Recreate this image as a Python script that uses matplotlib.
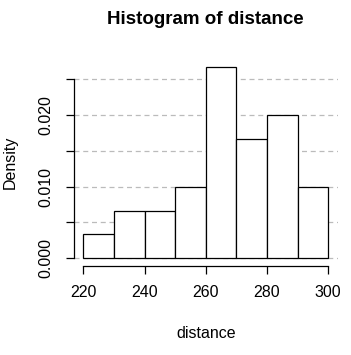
import matplotlib
matplotlib.use("Agg")
import matplotlib.pyplot as plt
import numpy as np

bin_edges = [220, 230, 240, 250, 260, 270, 280, 290, 300]
densities = [0.003333, 0.006667, 0.006667, 0.010, 0.026667, 0.016667, 0.020, 0.010]
x_ticks = [220, 240, 260, 280, 300]
y_ticks = [0.000, 0.005, 0.010, 0.015, 0.020, 0.025]
y_labels = ["0.000", "", "0.010", "", "0.020", ""]
grid_levels = [0.000, 0.005, 0.010, 0.015, 0.020, 0.025]

plt.rcParams['font.family'] = ['Liberation Sans', 'DejaVu Sans']

W, H = 351, 355
fig = plt.figure(figsize=(W / 100, H / 100), dpi=100)
left, right, top, bottom = 73.5, 338, 59.5, 266
ax = fig.add_axes([left / W, (H - bottom) / H, (right - left) / W, (bottom - top) / H])

for g in grid_levels:
    ax.axhline(g, color='#bbbbbb', linestyle=(0, (4, 3)), linewidth=0.9, zorder=0)

widths = np.diff(bin_edges)
ax.bar(bin_edges[:-1], densities, width=widths, align='edge', facecolor='white',
       edgecolor='black', linewidth=0.9, zorder=2)

ax.set_xlim(216.8, 303.2)
ax.set_ylim(-0.00107, 0.02773)

for s in ['top', 'right']:
    ax.spines[s].set_visible(False)
ax.spines['left'].set_bounds(0, 0.025)
ax.spines['bottom'].set_bounds(220, 300)
ax.spines['left'].set_linewidth(0.9)
ax.spines['bottom'].set_linewidth(0.9)

ax.set_xticks(x_ticks)
ax.set_xticklabels([str(t) for t in x_ticks])
ax.set_yticks(y_ticks)
ax.set_yticklabels(y_labels, rotation=90, va='center')
ax.tick_params(axis='both', length=5.8, width=0.9, labelsize=11.5, color='black')
ax.tick_params(axis='y', pad=9)
ax.tick_params(axis='x', pad=8)

fig.text(205.8 / W, 1 - 20 / H, "Histogram of distance", ha='center', va='center',
         fontsize=13.5, fontweight='bold')
fig.text(205.8 / W, 1 - 334 / H, "distance", ha='center', va='center', fontsize=11.5)
fig.text(10 / W, 1 - 162 / H, "Density", ha='center', va='center', fontsize=11.5, rotation=90)

fig.savefig("out.png", dpi=100)
